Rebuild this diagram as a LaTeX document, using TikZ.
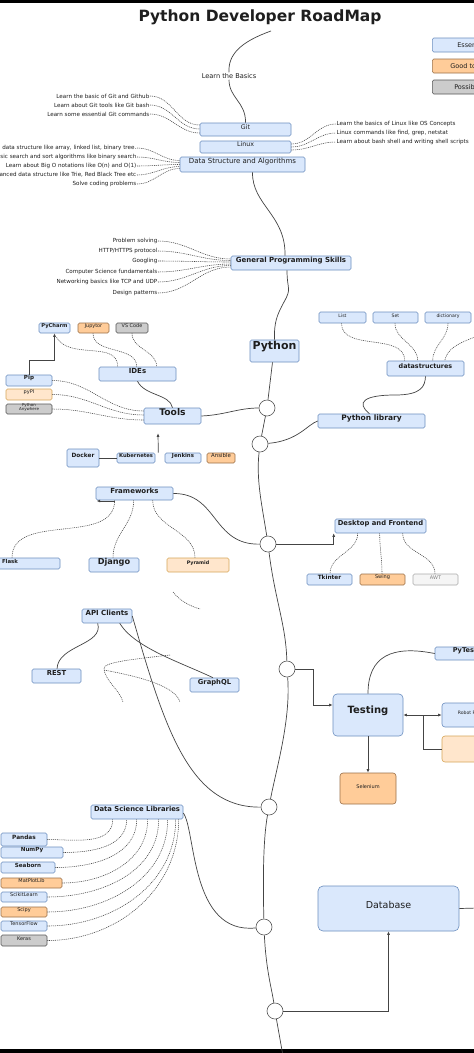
\documentclass[tikz,border=0pt]{standalone}
\usepackage{fontspec}
\setmainfont{DejaVu Sans}
\usetikzlibrary{fit,calc,arrows.meta}
\definecolor{bfill}{HTML}{DAE8FC}
\definecolor{bline}{HTML}{6C8EBF}
\definecolor{ofill}{HTML}{FFCC99}
\definecolor{oline}{HTML}{9A7048}
\definecolor{gfill}{HTML}{CCCCCC}
\definecolor{gline}{HTML}{555555}
\definecolor{pfill}{HTML}{FFE6CC}
\definecolor{pline}{HTML}{D7A75A}
\definecolor{wfill}{HTML}{F5F5F5}
\definecolor{wline}{HTML}{AAAAAA}
\definecolor{txt}{HTML}{1E1E1E}
\definecolor{lnk}{HTML}{444444}
\newcommand\fsz[1]{\fontsize{#1pt}{#1pt}\selectfont}
\newcommand\mkbox[7]{\node[#1, inner sep=0pt, fit={(#3,#4) (#5,#6)}] (#2) {#7};}
\tikzset{
  boxbase/.style={rounded corners=1.5pt, line width=0.6pt, align=center, text=txt},
  bluebox/.style={boxbase, draw=bline, fill=bfill},
  orbox/.style={boxbase, draw=oline, fill=ofill},
  greybox/.style={boxbase, draw=gline, fill=gfill},
  palebox/.style={boxbase, draw=pline, fill=pfill},
  whitebox/.style={boxbase, draw=wline, fill=wfill},
  lbl/.style={font=\fsz{5.6}, inner sep=0.5pt, text=txt},
  dotl/.style={draw=lnk, line width=0.55pt, dash pattern=on 1pt off 0.9pt},
  link/.style={draw=lnk, line width=0.7pt},
  arr/.style={link, -{Latex[length=3.5pt,width=3pt]}},
  hub/.style={circle, draw=gline, fill=white, line width=0.6pt, minimum size=16pt, inner sep=0pt},
}
\begin{document}
\begin{tikzpicture}[x=1pt,y=-1pt]
\useasboundingbox (0,0) rectangle (474,1053);
\clip (0,0) rectangle (474,1053);
\fill[white] (0,0) rectangle (474,1053);
\fill[black] (0,0) rectangle (474,3);
\fill[black] (0,1049) rectangle (474,1053);

% title and legend
\node[font=\bfseries\fsz{15.5}, text=txt] (title) at (260,17) {Python Developer RoadMap};
\node[bluebox, anchor=west, minimum width=110pt, minimum height=14pt, text width=80pt, align=left, inner xsep=25pt, font=\fsz{6.5}] (lg1) at (432,45) {Essential};
\node[orbox, anchor=west, minimum width=110pt, minimum height=14pt, text width=80pt, align=left, inner xsep=18pt, font=\fsz{6.5}] (lg2) at (432,66) {Good to know};
\node[greybox, anchor=west, minimum width=110pt, minimum height=14pt, text width=80pt, align=left, inner xsep=22pt, font=\fsz{6.5}] (lg3) at (432,87) {Possible};

\node[font=\fsz{6.6}, text=txt, inner sep=1pt] (lb) at (229,76) {Learn the Basics};

% main boxes
\mkbox{bluebox, font=\fsz{6.3}}{git}{200}{123}{291}{136}{Git}
\mkbox{bluebox, font=\fsz{6.3}}{linux}{200}{141}{291}{153}{Linux}
\mkbox{bluebox, font=\fsz{7}}{dsa}{180}{157}{305}{172}{Data Structure and Algorithms}
\mkbox{bluebox, font=\bfseries\fsz{7}}{gps}{231}{256}{351}{270}{General Programming Skills}
\mkbox{bluebox, font=\bfseries\fsz{11}}{py}{250}{340}{299}{362}{Python}
\mkbox{bluebox, font=\fsz{4.6}}{list}{319}{312}{366}{323}{List}
\mkbox{bluebox, font=\fsz{4.6}}{set}{373}{312}{418}{323}{Set}
\mkbox{bluebox, font=\fsz{4.6}}{dict}{425}{312}{471}{323}{dictionary}
\mkbox{bluebox, font=\bfseries\fsz{6.4}}{ds}{387}{361}{464}{376}{datastructures}
\mkbox{bluebox, font=\bfseries\fsz{7.5}}{pylib}{318}{414}{425}{428}{Python library}
\mkbox{bluebox, font=\bfseries\fsz{7}}{ides}{99}{367}{176}{381}{IDEs}
\mkbox{bluebox, font=\bfseries\fsz{5.2}}{pych}{39}{323}{70}{333}{PyCharm}
\mkbox{orbox, font=\fsz{4.9}}{jup}{78}{323}{109}{333}{Jupytor}
\mkbox{greybox, font=\fsz{4.9}}{vsc}{116}{323}{148}{333}{VS Code}
\mkbox{bluebox, font=\bfseries\fsz{5.6}}{pip}{6}{375}{52}{386}{Pip}
\mkbox{palebox, font=\fsz{5}}{pypi}{6}{389}{52}{400}{pyPI}
\mkbox{greybox, font=\fsz{4}}{pa}{6}{404}{52}{414}{Python\\Anywhere}
\mkbox{bluebox, font=\bfseries\fsz{9.2}}{tools}{144}{408}{201}{424}{Tools}
\mkbox{bluebox, font=\bfseries\fsz{5.8}}{dock}{67}{449}{99}{467}{Docker}
\mkbox{bluebox, font=\bfseries\fsz{5.2}}{kub}{117}{453}{155}{463}{Kubernetes}
\mkbox{bluebox, font=\bfseries\fsz{5.4}}{jenk}{165}{453}{201}{463}{Jenkins}
\mkbox{orbox, font=\fsz{5.4}}{ans}{207}{453}{235}{463}{Ansible}
\mkbox{bluebox, font=\bfseries\fsz{7}}{fw}{96}{487}{173}{500}{Frameworks}
\mkbox{bluebox, font=\bfseries\fsz{5.4}}{flask}{-40}{558}{60}{569}{Flask}
\mkbox{bluebox, font=\bfseries\fsz{8.2}}{djan}{89}{558}{139}{572}{Django}
\mkbox{palebox, font=\bfseries\fsz{4.8}}{pyr}{167}{558}{229}{572}{Pyramid}
\mkbox{bluebox, font=\bfseries\fsz{6.8}}{desk}{335}{519}{426}{533}{Desktop and Frontend}
\mkbox{bluebox, font=\bfseries\fsz{5.8}}{tk}{307}{574}{352}{585}{Tkinter}
\mkbox{orbox, font=\fsz{5}}{swing}{360}{574}{405}{585}{Swing}
\mkbox{whitebox, font=\fsz{5}, text=gray}{awt}{413}{574}{458}{585}{AWT}
\mkbox{bluebox, font=\bfseries\fsz{7}}{api}{82}{609}{132}{623}{API Clients}
\mkbox{bluebox, font=\bfseries\fsz{6.8}}{rest}{32}{669}{81}{683}{REST}
\mkbox{bluebox, font=\bfseries\fsz{6.8}}{gql}{190}{678}{239}{692}{GraphQL}
\mkbox{bluebox, rounded corners=4pt, font=\bfseries\fsz{10}}{test}{333}{694}{403}{736}{Testing}
\mkbox{bluebox, font=\bfseries\fsz{6.6}}{pyt}{435}{647}{495}{660}{PyTest}
\mkbox{bluebox, rounded corners=3pt, font=\fsz{4.6}}{robot}{442}{703}{514}{727}{Robot Framework}
\mkbox{palebox, rounded corners=3pt}{pale}{442}{736}{514}{762}{}
\mkbox{orbox, rounded corners=3pt, font=\fsz{5}}{sel}{340}{773}{396}{804}{Selenium}
\mkbox{bluebox, font=\bfseries\fsz{6.8}}{dsl}{91}{805}{183}{819}{Data Science Libraries}
\mkbox{bluebox, font=\bfseries\fsz{5.8}}{pand}{1}{833}{47}{846}{Pandas}
\mkbox{bluebox, font=\bfseries\fsz{5.6}}{nump}{1}{847}{63}{858}{NumPy}
\mkbox{bluebox, font=\bfseries\fsz{5.6}}{seab}{1}{862}{55}{873}{Seaborn}
\mkbox{orbox, font=\fsz{5}}{mpl}{1}{878}{62}{888}{MatPlotLib}
\mkbox{bluebox, font=\fsz{5}}{skl}{1}{892}{47}{902}{ScikitLearn}
\mkbox{orbox, font=\fsz{5}}{scipy}{1}{907}{47}{917}{Scipy}
\mkbox{bluebox, font=\fsz{5}}{tf}{1}{921}{47}{931}{TensorFlow}
\mkbox{greybox, font=\fsz{5}}{keras}{1}{935}{47}{946}{Keras}
\mkbox{bluebox, rounded corners=5pt, font=\fsz{9.5}}{db}{318}{886}{459}{931}{Database}

% hubs
\node[hub] (c1) at (267,408) {};
\node[hub] (c2) at (260,444) {};
\node[hub] (c3) at (268,544) {};
\node[hub] (c4) at (287,669) {};
\node[hub] (c5) at (269,807) {};
\node[hub] (c6) at (264,927) {};
\node[hub] (c7) at (275,1011) {};

% side labels: Git
\node[lbl, anchor=east] (g1) at (150,96) {Learn the basic of Git and Github};
\node[lbl, anchor=east] (g2) at (150,105) {Learn about Git tools like Git bash};
\node[lbl, anchor=east] (g3) at (150,114) {Learn some essential Git commands};
% Linux
\node[lbl, anchor=west] (x1) at (336,124) {Learn the basics of Linux like OS Concepts};
\node[lbl, anchor=west] (x2) at (336,133) {Linux commands like find, grep, netstat};
\node[lbl, anchor=west] (x3) at (336,142) {Learn about bash shell and writing shell scripts};
% DSA
\node[lbl, anchor=east] (d1) at (137,148) {Learn data structure like array, linked list, binary tree.};
\node[lbl, anchor=east] (d2) at (137,157) {Learn basic search and sort algorithms like binary search};
\node[lbl, anchor=east] (d3) at (137,166) {Learn about Big O notations like O(n) and O(1)};
\node[lbl, anchor=east] (d4) at (137,175) {Learn advanced data structure like Trie, Red Black Tree etc};
\node[lbl, anchor=east] (d5) at (137,184) {Solve coding problems};
% GPS
\node[lbl, anchor=east] (p1) at (158,241) {Problem solving};
\node[lbl, anchor=east] (p2) at (158,251) {HTTP/HTTPS protocol};
\node[lbl, anchor=east] (p3) at (158,261) {Googling};
\node[lbl, anchor=east] (p4) at (158,272) {Computer Science fundamentals};
\node[lbl, anchor=east] (p5) at (158,282) {Networking basics like TCP and UDP};
\node[lbl, anchor=east] (p6) at (158,293) {Design patterns};

% spine
\coordinate (t0) at (271,31);
\coordinate (tend) at (283,1056);
\draw[link] (t0) .. controls (240,42) and (228,55) .. (lb.north);
\draw[link] (lb.south) .. controls (229,98) and (246,102) .. (git.north);
\draw[link] ($(dsa.south)+(10,0)$) .. controls (252,205) and (286,215) .. ($(gps.north)+(-6,0)$);
\draw[link] ($(gps.south)+(-4,0)$) .. controls (287,290) and (292,288) .. (284,302) .. controls (277,315) and (274,322) .. (py.north);
\draw[link] ($(py.south)+(-2,0)$) -- (c1);
\draw[link] (c1) -- (c2);
\draw[link] (c2) .. controls (256,480) and (262,505) .. (c3);
\draw[link] (c3) .. controls (275,600) and (286,625) .. (c4);
\draw[link] (c4) .. controls (291,720) and (276,770) .. (c5);
\draw[link] (c5) .. controls (263,840) and (263,880) .. (c6);
\draw[link] (c6) .. controls (266,970) and (272,990) .. (c7);
\draw[link] (c7) -- (tend);

% Git / Linux / DSA / GPS dotted
\draw[dotl] (g1.east) to[out=0,in=180] ($(git.west)+(0,-4.5)$);
\draw[dotl] (g2.east) to[out=0,in=180] ($(git.west)+(0,-0.5)$);
\draw[dotl] (g3.east) to[out=0,in=180] ($(git.west)+(0,3.5)$);
\draw[dotl] ($(linux.east)+(0,-3)$) to[out=0,in=180] (x1.west);
\draw[dotl] (linux.east) to[out=0,in=180] (x2.west);
\draw[dotl] ($(linux.east)+(0,3)$) to[out=0,in=180] (x3.west);
\draw[dotl] (d1.east) to[out=0,in=180] ($(dsa.west)+(0,-4)$);
\draw[dotl] (d2.east) to[out=0,in=180] ($(dsa.west)+(0,-2)$);
\draw[dotl] (d3.east) to[out=0,in=180] ($(dsa.west)+(0,0)$);
\draw[dotl] (d4.east) to[out=0,in=180] ($(dsa.west)+(0,2)$);
\draw[dotl] (d5.east) to[out=0,in=180] ($(dsa.west)+(0,4)$);
\draw[dotl] (p1.east) to[out=0,in=180] ($(gps.west)+(0,-4)$);
\draw[dotl] (p2.east) to[out=0,in=180] ($(gps.west)+(0,-2.5)$);
\draw[dotl] (p3.east) to[out=0,in=180] ($(gps.west)+(0,-1)$);
\draw[dotl] (p4.east) to[out=0,in=180] ($(gps.west)+(0,1)$);
\draw[dotl] (p5.east) to[out=0,in=180] ($(gps.west)+(0,2.5)$);
\draw[dotl] (p6.east) to[out=0,in=180] ($(gps.west)+(0,4)$);

% Python library / datastructures
\draw[link] (c2) .. controls (298,441) and (308,424) .. (pylib.west);
\draw[link] ($(pylib.north)+(-2,0)$) .. controls (355,402) and (365,395) .. (395,395) .. controls (422,395) and (425,386) .. (ds.south);
\coordinate (offr) at (478,336);
\draw[dotl] ($(list.south)+(-1,0)$) to[out=-90,in=90] ($(ds.north west)+(18,0)$);
\draw[dotl] ($(set.south)+(-0.5,0)$) to[out=-90,in=90] ($(ds.north west)+(31,0)$);
\draw[dotl] (dict.south) to[out=-90,in=90] ($(ds.north west)+(46,0)$);
\draw[dotl] (offr) .. controls (455,344) and (447,350) .. ($(ds.north west)+(58,0)$);

% Tools cluster
\draw[link] (tools.east) .. controls (225,415) and (238,408) .. (c1);
\draw[link] (ides.south) .. controls (145,396) and (170,394) .. (tools.north);
\draw[dotl] ($(pych.south)+(2,4)$) to[out=-60,in=90] ($(ides.north west)+(19,0)$);
\draw[dotl] ($(jup.south)+(-0.5,0)$) to[out=-90,in=90] ($(ides.north west)+(38,0)$);
\draw[dotl] ($(vsc.south)+(0,0)$) to[out=-90,in=90] ($(ides.north west)+(58,0)$);
\draw[arr] (pip.north) -- ++(0,-14) -| (pych.south);
\draw[dotl] (pip.east) to[out=0,in=180] ($(tools.west)+(0,-5)$);
\draw[dotl] (pypi.east) to[out=0,in=180] ($(tools.west)+(0,-1)$);
\draw[dotl] (pa.east) to[out=0,in=180] ($(tools.west)+(0,4)$);
\draw[link] (dock.east) -- (kub.west);
\draw[arr] ($(kub.north east)+(3,0)$) -- ($(tools.south)+(-14.5,9)$);

% Frameworks
\draw[link] (fw.east) .. controls (218,493) and (212,545) .. (c3);
\draw[arr] ($(fw.south west)+(19,0.7)$) -- ($(fw.south west)+(1,0.7)$);
\draw[dotl] ($(fw.south west)+(19,0)$) to[out=-90,in=90] ($(flask.north)+(2,0)$);
\draw[dotl] ($(fw.south west)+(38,0)$) to[out=-90,in=90] ($(djan.north)+(-1,0)$);
\draw[dotl] ($(fw.south west)+(57,0)$) to[out=-90,in=90] ($(pyr.north)+(-3,0)$);
\coordinate (s1a) at (173,592);
\coordinate (s1b) at (200,609);
\draw[dotl] (s1a) .. controls (180,601) and (190,606) .. (s1b);

% Desktop
\draw[arr] (c3.east) -| ($(desk.south west)+(-1,0)$);
\draw[dotl] ($(desk.south west)+(23,0)$) to[out=-90,in=90] ($(tk.north)+(0.5,0)$);
\draw[dotl] ($(desk.south west)+(45,0)$) to[out=-90,in=90] ($(swing.north)+(-0.5,0)$);
\draw[dotl] ($(desk.south west)+(68,0)$) to[out=-90,in=90] ($(awt.north)+(-0.5,0)$);

% API
\draw[link] ($(api.south west)+(16,0)$) .. controls (104,645) and (58,645) .. ($(rest.north)+(0.5,0)$);
\draw[link] ($(api.south west)+(38,0)$) .. controls (135,648) and (180,662) .. ($(gql.north)+(-1.5,0)$);
\draw[link] ($(api.east)+(0,0)$) .. controls (165,730) and (190,808) .. (c5);
\coordinate (s2a) at (170,655);
\coordinate (s2b) at (104,668);
\coordinate (s2c) at (123,702);
\coordinate (s3a) at (104,670);
\coordinate (s3b) at (180,702);
\draw[dotl] (s2a) .. controls (135,659) and (105,662) .. (s2b) .. controls (104,680) and (120,690) .. (s2c);
\draw[dotl] (s3a) .. controls (130,675) and (175,684) .. (s3b);

% Testing
\draw[arr] (c4.east) -- ++(18,0) |- ($(test.west)+(0,-10)$);
\draw[arr] (test.south) -- (sel.north);
\draw[link] (test.north) .. controls (368,656) and (392,645) .. (pyt.west);
\draw[link, {Latex[length=3.5pt,width=3pt]}-{Latex[length=3.5pt,width=3pt]}] (test.east) -- (robot.west);
\draw[link] ($(test.east)+(20,0)$) |- (pale.west);

% Data Science
\draw[link] ($(dsl.east)+(0,1)$) .. controls (196,830) and (190,935) .. (c6);
\draw[dotl] (pand.east) to[out=0,in=-90] ($(dsl.south west)+(22,0)$);
\draw[dotl] (nump.east) to[out=0,in=-90] ($(dsl.south west)+(36,0)$);
\draw[dotl] (seab.east) to[out=0,in=-90] ($(dsl.south west)+(46,0)$);
\draw[dotl] (mpl.east) to[out=0,in=-90] ($(dsl.south west)+(57,0)$);
\draw[dotl] (skl.east) to[out=0,in=-90] ($(dsl.south west)+(68,0)$);
\draw[dotl] (scipy.east) to[out=0,in=-90] ($(dsl.south west)+(77,0)$);
\draw[dotl] (tf.east) to[out=0,in=-90] ($(dsl.south west)+(85,0)$);
\draw[dotl] (keras.east) to[out=0,in=-90] ($(dsl.south west)+(88,0)$);

% Database
\coordinate (dbr) at (478,908);
\draw[link] (db.east) -- (dbr);
\draw[arr] (c7.east) -| (db.south);
\end{tikzpicture}
\end{document}
